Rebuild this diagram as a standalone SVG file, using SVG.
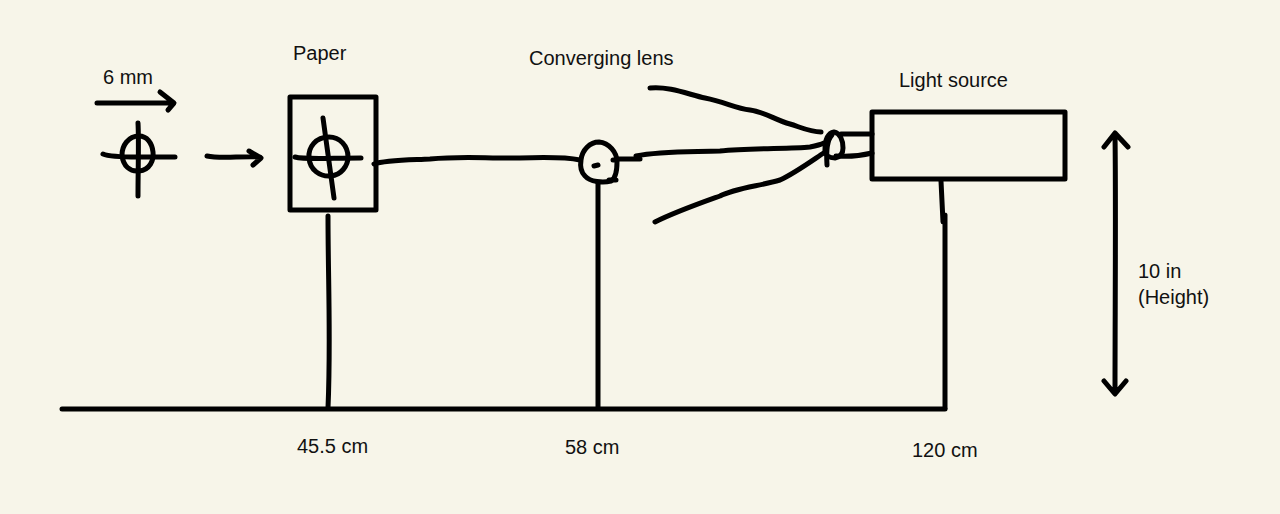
<svg xmlns="http://www.w3.org/2000/svg" width="1280" height="514" viewBox="0 0 1280 514">
<style>
.s{fill:none;stroke:#000;stroke-width:5;stroke-linecap:round;stroke-linejoin:round}
.t{stroke-width:4}
text{font-family:"Helvetica Neue","Liberation Sans",Arial,sans-serif;font-size:20px;fill:#111}
</style>
<rect width="1280" height="514" fill="#f7f5e9"/>
<g id="target">
<path class="s" d="M97 103H173M160 92L174 103L168 110"/>
<path class="s" d="M103 154C110 157 125 157 138 157H175"/>
<path class="s" d="M138 123C139 140 138 170 138 196"/>
<path class="s" d="M139 136C128 136 122 146 122 155C123 166 130 172 139 171C150 170 154 160 153 152C152 143 147 136 139 136Z"/>
<text x="103" y="84">6 mm</text>
</g>
<g id="arrow"><path class="s" d="M207 156C220 159 240 156 260 157M249 151L261 158L253 165"/></g>
<g id="paper">
<rect class="s" x="290" y="97" width="86" height="113"/>
<path class="s" d="M295 157C305 160 330 158 361 158"/>
<path class="s" d="M323 118L334 198"/>
<path class="s" d="M329 137C316 137 308 147 309 158C310 170 320 177 331 176C341 175 348 166 348 157C348 146 340 137 329 137Z"/>
<text x="293" y="60">Paper</text>
</g>
<g id="lens">
<path class="s" d="M581 160C582 150 590 142 599 142C609 143 617 152 617 162C617 170 616 178 611 181C603 183 590 182 585 176C581 172 580 166 581 160Z"/>
<path class="s" d="M598 165L594 166M613 160H617M609 180H616"/>
<text x="529" y="65">Converging lens</text>
</g>
<g id="source">
<rect class="s" x="872" y="112" width="193" height="67"/>
<path class="s" d="M825 150C825 138 829 133 834 132C840 133 843 140 843 148C843 154 840 157 835 158C829 158 825 155 825 150Z"/>
<path class="s" d="M832 135C827 140 826 150 827 165"/>
<text x="899" y="87">Light source</text>
</g>
<g id="dimension">
<path class="s" d="M1115 135C1116 200 1115 320 1115 393M1104 147L1115 133L1128 147M1104 381L1115 394L1126 381"/>
<text x="1138" y="278">10 in</text><text x="1138" y="304">(Height)</text>
</g>
<g id="connectors">
<path class="s" d="M62 409H945"/>
<path class="s" d="M328 216C328 280 331 340 328 408"/>
<path class="s" d="M598 183V408"/>
<path class="s" d="M941 181L943 222M945 215V408"/>
<path class="s" d="M374 164C385 160 410 160 430 159C460 156 480 158 510 158C540 158 560 156 580 160"/>
<path class="s" d="M617 159H640"/>
<path class="s" d="M636 156C660 151 690 152 720 151C750 148 790 149 810 147C815 146 820 145 824 143"/>
<path class="s" d="M650 88C670 86 690 95 705 98C725 102 735 108 750 110C765 112 775 120 790 124C800 127 810 132 821 132"/>
<path class="s" d="M655 222C675 212 695 205 720 196C735 188 760 186 780 180C795 173 810 162 825 152"/>
<path class="s" d="M841 134H872M836 156C850 157 860 156 872 153"/>
</g>
<g id="labels">
<text x="297" y="453">45.5 cm</text>
<text x="565" y="454">58 cm</text>
<text x="912" y="457">120 cm</text>
</g>
</svg>
